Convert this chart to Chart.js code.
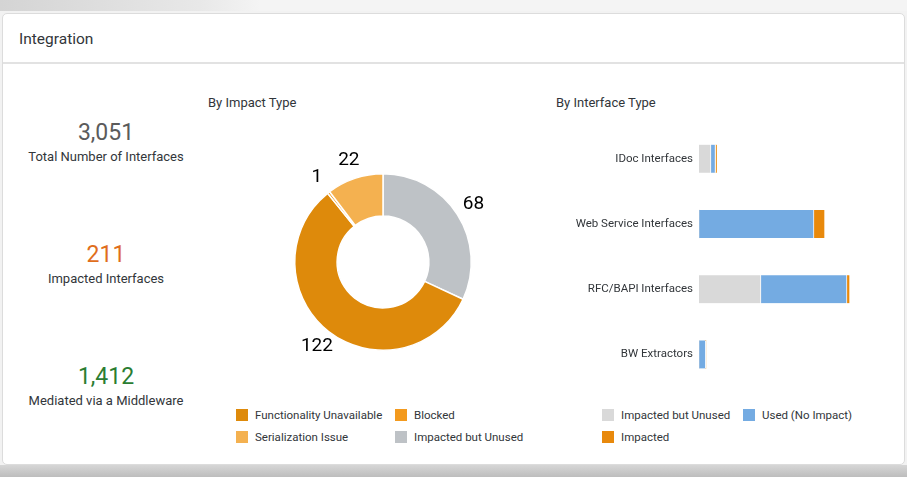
<!DOCTYPE html>
<html>
<head>
<meta charset="utf-8">
<script src="https://cdn.jsdelivr.net/npm/chart.js@4"></script>
<style>
  html, body { margin: 0; padding: 0; }
  body {
    width: 907px; height: 477px; position: relative; overflow: hidden;
    background: #f2f2f2; font-family: Roboto, "Open Sans", sans-serif; color: #32363a;
  }
  .topstrip { position: absolute; left: 0; top: 0; width: 907px; height: 11px;
    background: linear-gradient(to right, #d4d4d4 0px, #e8e8e8 200px, #f4f4f4 260px, #f4f4f4 100%); }
  .bottomstrip { position: absolute; left: 0; top: 465px; width: 907px; height: 12px;
    background: linear-gradient(to bottom, #d6d6d6, #bdbdbd); }
  .card { position: absolute; left: 2px; top: 13px; width: 901px; height: 450px;
    background: #fff; border: 1px solid #dcdcdc; border-radius: 5px; }
  .header { position: absolute; left: 19px; top: 30px; font-size: 15.5px; color: #32363a; }
  .sep { position: absolute; left: 3px; top: 62px; width: 901px; height: 2px; background: #e2e2e2; }
  .kpi { position: absolute; left: 6px; width: 200px; text-align: center; }
  .kpi .num { font-size: 23px; line-height: 28px; }
  .kpi .lbl { font-size: 13px; line-height: 16px; margin-top: 2px; }
  .title { position: absolute; top: 95px; font-size: 13px; color: #32363a; }
  .legend { position: absolute; font-size: 11.5px; color: #32363a; }
  .legend .item { position: absolute; white-space: nowrap; line-height: 14px; }
  .legend .box { display: inline-block; width: 12px; height: 12px; vertical-align: -2px; margin-right: 7px; }
  canvas { position: absolute; }
</style>
</head>
<body>
<div class="topstrip"></div>
<div class="bottomstrip"></div>
<div class="card"></div>
<div class="header">Integration</div>
<div class="sep"></div>

<div class="kpi" style="top:119px"><div class="num" style="color:#5b5b5b">3,051</div><div class="lbl">Total Number of Interfaces</div></div>
<div class="kpi" style="top:241px"><div class="num" style="color:#e06e1c">211</div><div class="lbl">Impacted Interfaces</div></div>
<div class="kpi" style="top:363px"><div class="num" style="color:#2b7d32">1,412</div><div class="lbl">Mediated via a Middleware</div></div>

<div class="title" style="left:208px">By Impact Type</div>
<div class="title" style="left:556px">By Interface Type</div>

<div style="position:absolute;left:263px;top:142px;width:240px;height:240px"><canvas id="impactChart"></canvas></div>
<div style="position:absolute;left:550px;top:110px;width:340px;height:290px"><canvas id="typeChart"></canvas></div>

<div class="legend" id="impactLegend"></div>
<div class="legend" id="typeLegend"></div>

<script>
// By Impact Type (clockwise from the top)
var impactLabels = ['Impacted but Unused', 'Functionality Unavailable', 'Blocked', 'Serialization Issue'];
var impactValues = [68, 122, 1, 22];
var impactColors = ['#bec2c6', '#de8a0b', '#f39a1e', '#f4b150'];
var impactLegendOrder = ['Functionality Unavailable', 'Blocked', 'Serialization Issue', 'Impacted but Unused'];

// By Interface Type
var typeCategories = ['IDoc Interfaces', 'Web Service Interfaces', 'RFC/BAPI Interfaces', 'BW Extractors'];
var unusedValues = [120, 0, 620, 0];
var usedValues = [45, 1150, 860, 68];
var impactedValues = [20, 110, 30, 0];
var typeSeries = ['Impacted but Unused', 'Used (No Impact)', 'Impacted'];
var typeColors = ['#d9d9d9', '#74abe2', '#e8890c'];

// values written outside each slice
var outsideLabels = {
    id: 'outsideLabels',
    afterDatasetsDraw: function(chart) {
        var ctx = chart.ctx;
        ctx.save();
        ctx.font = '19px Roboto, sans-serif';
        ctx.fillStyle = '#000';
        ctx.textAlign = 'center';
        ctx.textBaseline = 'middle';
        chart.getDatasetMeta(0).data.forEach(function(arc, i) {
            var p = arc.getProps(['x', 'y', 'startAngle', 'endAngle', 'outerRadius'], true);
            var mid = (p.startAngle + p.endAngle) / 2;
            var r = p.outerRadius + 19;
            ctx.fillText(String(chart.data.datasets[0].data[i]), p.x + Math.cos(mid) * r, p.y + Math.sin(mid) * r);
        });
        ctx.restore();
    }
};

new Chart(document.getElementById('impactChart').getContext('2d'), {
    type: 'doughnut',
    data: {
        labels: impactLabels,
        datasets: [{
            data: impactValues,
            backgroundColor: impactColors,
            borderColor: '#ffffff',
            borderWidth: 1.5
        }]
    },
    options: {
        responsive: true,
        maintainAspectRatio: false,
        animation: false,
        cutout: '52%',
        layout: { padding: 31 },
        plugins: { legend: { display: false }, tooltip: { enabled: false } }
    },
    plugins: [outsideLabels]
});

new Chart(document.getElementById('typeChart').getContext('2d'), {
    type: 'bar',
    data: {
        labels: typeCategories,
        datasets: [
            { label: typeSeries[0], data: unusedValues, backgroundColor: typeColors[0] },
            { label: typeSeries[1], data: usedValues, backgroundColor: typeColors[1] },
            { label: typeSeries[2], data: impactedValues, backgroundColor: typeColors[2] }
        ]
    },
    options: {
        indexAxis: 'y',
        responsive: true,
        maintainAspectRatio: false,
        animation: false,
        layout: { padding: { top: 16, bottom: 13, left: 0, right: 0 } },
        datasets: { bar: { barThickness: 28, borderColor: '#ffffff', borderWidth: { right: 1 }, borderSkipped: false } },
        scales: {
            x: { stacked: true, display: false, min: 0, max: 1910 },
            y: {
                stacked: true,
                border: { display: false },
                grid: { display: false, drawTicks: false },
                ticks: { color: '#32363a', font: { family: 'Roboto', size: 11.5 }, padding: 6 },
                afterFit: function(scale) { scale.width = 149; }
            }
        },
        plugins: { legend: { display: false }, tooltip: { enabled: false } }
    }
});

// html legends
function buildLegend(el, names, colors, left, top, colX) {
    el.style.left = left + 'px';
    el.style.top = top + 'px';
    names.forEach(function(name, i) {
        var item = document.createElement('div');
        item.className = 'item';
        item.style.left = colX[i % 2] + 'px';
        item.style.top = Math.floor(i / 2) * 22 + 'px';
        item.innerHTML = '<span class="box" style="background:' + colors[i] + '"></span>' + name;
        el.appendChild(item);
    });
}
buildLegend(document.getElementById('impactLegend'), impactLegendOrder,
    impactLegendOrder.map(function(n) { return impactColors[impactLabels.indexOf(n)]; }), 236, 408, [0, 159]);
buildLegend(document.getElementById('typeLegend'), typeSeries, typeColors, 602, 408, [0, 141]);
</script>
</body>
</html>
